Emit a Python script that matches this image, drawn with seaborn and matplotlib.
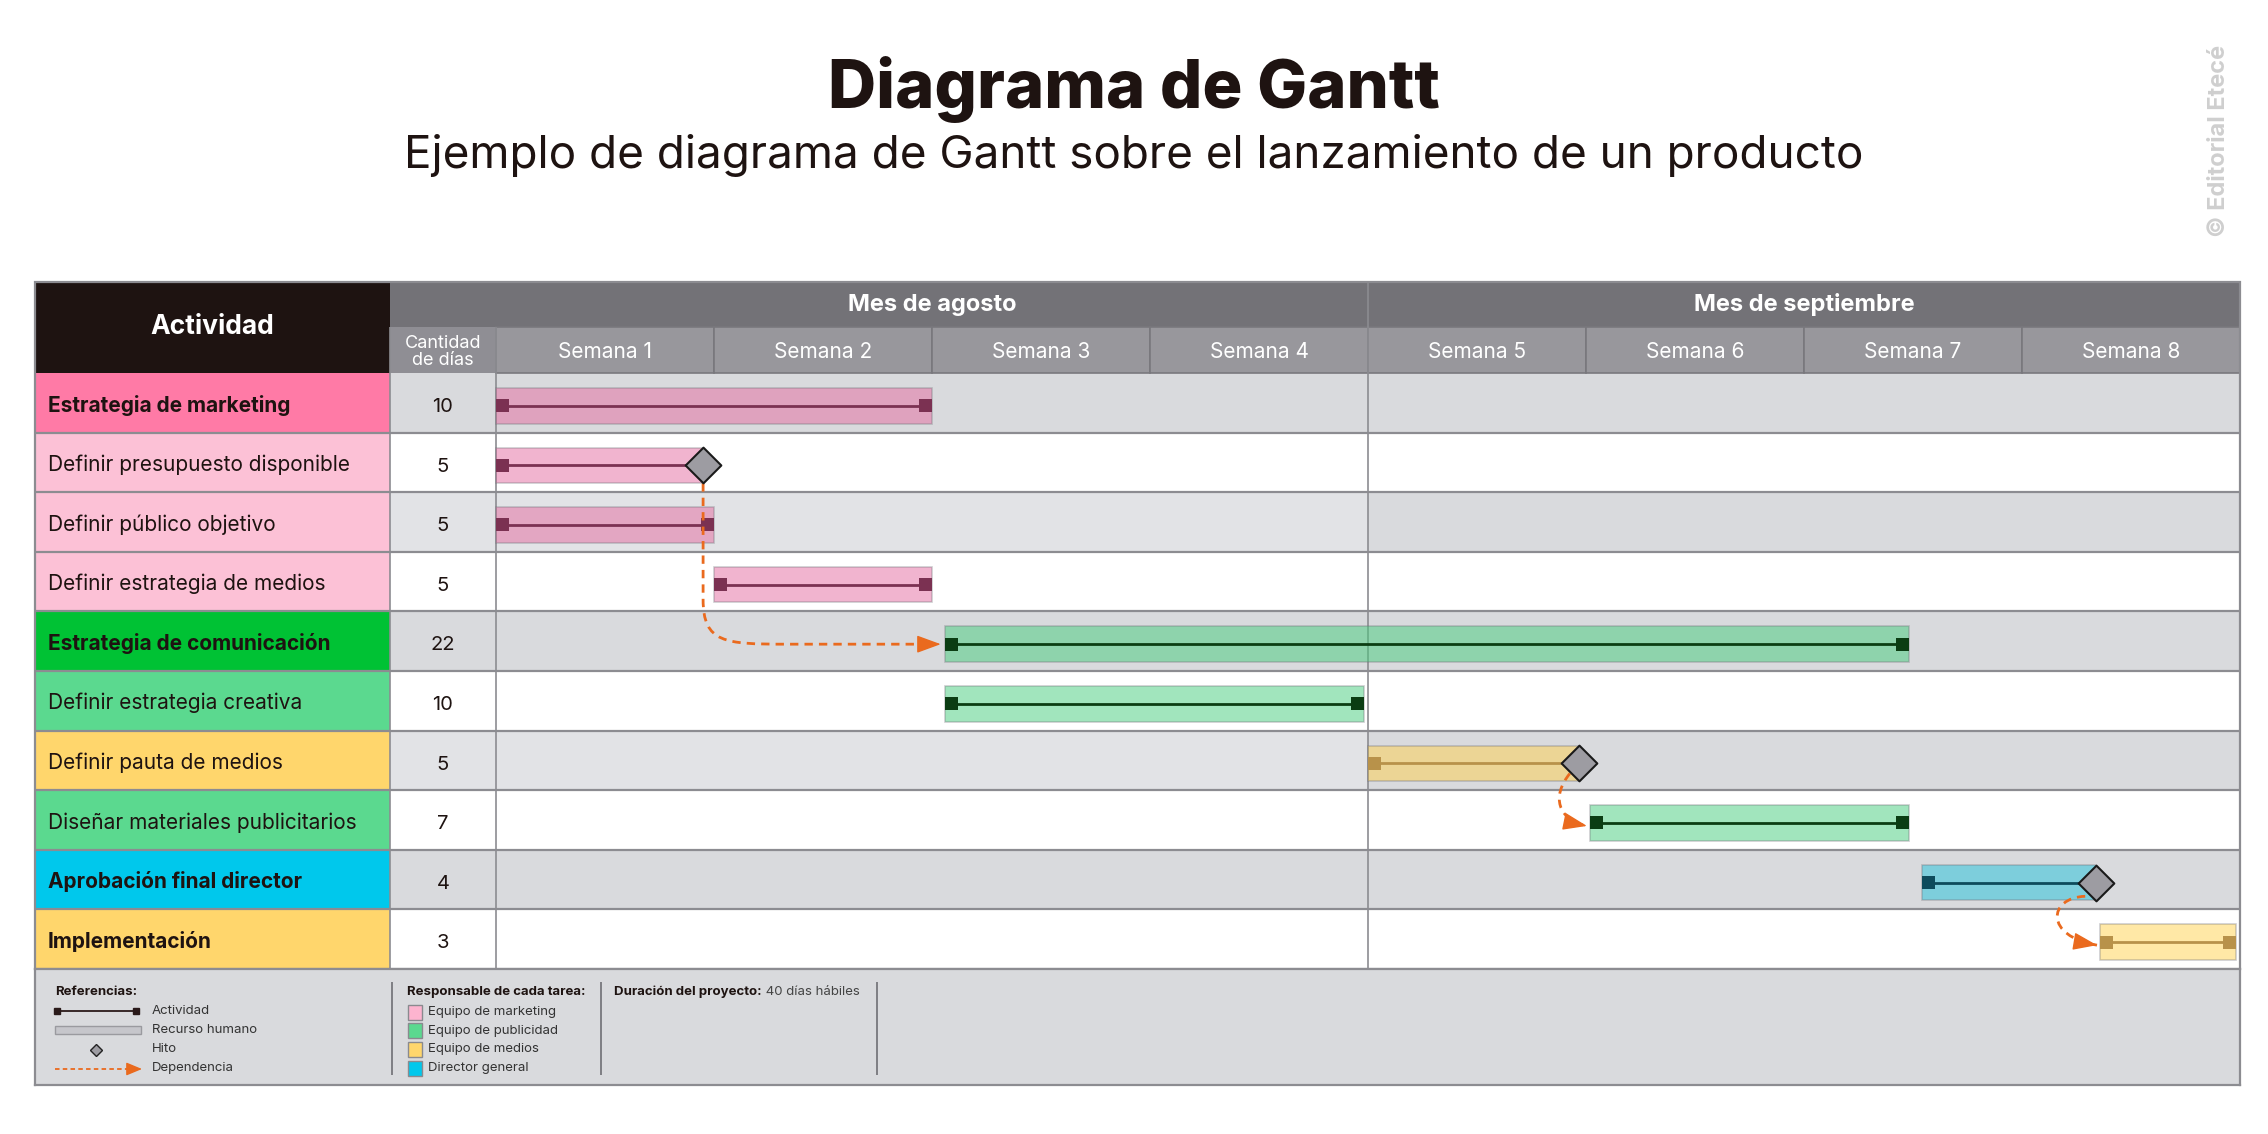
import numpy as np
import pandas as pd
import seaborn as sns
import matplotlib.pyplot as plt
from matplotlib.patches import Rectangle, PathPatch, FancyArrowPatch
from matplotlib.path import Path
from matplotlib.colors import to_rgba

# data
activities = ["Estrategia de marketing", "Definir presupuesto disponible", "Definir público objetivo",
              "Definir estrategia de medios", "Estrategia de comunicación", "Definir estrategia creativa",
              "Definir pauta de medios", "Diseñar materiales publicitarios", "Aprobación final director",
              "Implementación"]
days_count = [10, 5, 5, 5, 22, 10, 5, 7, 4, 3]
start_day = [0, 0, 0, 5, 10.3, 10.3, 20, 25.1, 32.7, 36.8]
end_day = [10, 4.75, 5, 10, 32.4, 19.9, 24.85, 32.4, 36.7, 39.9]
team = ["marketing", "marketing", "marketing", "marketing", "publicidad", "publicidad",
        "medios", "publicidad", "director", "medios"]
is_group = [True, False, False, False, True, False, False, False, True, True]
milestone = [False, True, False, False, False, False, True, False, True, False]
dependencies = [(1, 4), (6, 7), (8, 9)]
weeks = [f"Semana {i}" for i in range(1, 9)]
months = ["Mes de agosto", "Mes de septiembre"]
teams = ["marketing", "publicidad", "medios", "director"]
team_labels = ["Equipo de marketing", "Equipo de publicidad", "Equipo de medios", "Director general"]
total_days = 40

# colours
cell_light = {"marketing": "#fcc1d6", "publicidad": "#5bd98f", "medios": "#ffd66c", "director": "#00c8ec"}
cell_strong = {"marketing": "#ff7aa6", "publicidad": "#00c234", "medios": "#ffd66c", "director": "#00c8ec"}
bar_fill = {"marketing": "#e56ba0", "publicidad": "#45cd7c", "medios": "#ffd24f", "director": "#22c4dc"}
line_col = {"marketing": "#7b3152", "publicidad": "#0b3d13", "medios": "#b8924a", "director": "#0d4b5c"}
legend_sq = {"marketing": "#fdb4cf", "publicidad": "#5bd98f", "medios": "#ffd66c", "director": "#00c8ec"}
orange = "#ea6a1e"
dark = "#1e1311"
grid_col = "#8c8c91"

sns.set_theme(style="white")
plt.rcParams['font.family'] = ['Inter', 'DejaVu Sans']

W, H = 2268, 1134
fig = plt.figure(figsize=(W / 100, H / 100), dpi=100)
fig.patch.set_facecolor("white")

# layout in pixels
tab_left, tab_right, cnt_left, chart_left = 35, 2240, 390, 496
tab_top, week_top, rows_top, rows_bot, leg_bot = 282, 327, 373, 969, 1085
n = len(activities)
day_px = (tab_right - chart_left) / total_days
row_px = (rows_bot - rows_top) / n

ax = fig.add_axes([tab_left / W, 1 - rows_bot / H, (tab_right - tab_left) / W, (rows_bot - tab_top) / H])
x_min = -(chart_left - tab_left) / day_px
x_cnt = -(chart_left - cnt_left) / day_px
y_top = -(rows_top - tab_top) / row_px
y_mid = -(rows_top - week_top) / row_px
ax.set_xlim(x_min, total_days)
ax.set_ylim(n, y_top)
ax.axis("off")

# row backgrounds and left columns
for i, name in enumerate(activities):
    if i % 2 == 0:
        ax.add_patch(Rectangle((x_cnt, i), total_days - x_cnt, 1, fc="#d9dadd", lw=0, zorder=0))
        if i in (2, 6):
            ax.add_patch(Rectangle((x_cnt, i), 20 - x_cnt, 1, fc="#e2e3e6", lw=0, zorder=0))
    fc = cell_strong[team[i]] if is_group[i] else cell_light[team[i]]
    ax.add_patch(Rectangle((x_min, i), x_cnt - x_min, 1, fc=fc, lw=0, zorder=0))
    ax.text(x_min + 13 / day_px, i + 0.54, name, ha="left", va="center", fontsize=15,
            fontweight="bold" if is_group[i] else "normal", color=dark)
    ax.text(x_cnt / 2, i + 0.57, str(days_count[i]), ha="center", va="center", fontsize=14.5, color=dark)

# header
ax.add_patch(Rectangle((x_min, y_top), x_cnt - x_min, -y_top, fc=dark, lw=0))
ax.text((x_min + x_cnt) / 2, y_top / 2, "Actividad", ha="center", va="center", color="white",
        fontsize=19, fontweight="bold")
ax.add_patch(Rectangle((x_cnt, y_top), total_days - x_cnt, y_mid - y_top, fc="#737277", lw=0))
ax.add_patch(Rectangle((x_cnt, y_mid), -x_cnt, -y_mid, fc="#8f8e94", lw=0))
ax.text(x_cnt / 2, y_mid / 2 + 0.03, "Cantidad\nde días", ha="center", va="center", color="white",
        fontsize=13, linespacing=1.0)
for w, wk in enumerate(weeks):
    ax.add_patch(Rectangle((5 * w, y_mid), 5, -y_mid, fc="#98979c", ec="#79787d", lw=1.2))
    ax.text(5 * w + 2.5, y_mid / 2 + 0.04, wk, ha="center", va="center", color="white", fontsize=15)
for m, mo in enumerate(months):
    ax.text(20 * m + 10, (y_top + y_mid) / 2, mo, ha="center", va="center", color="white",
            fontsize=17, fontweight="bold")

# grid lines
ax.hlines(np.arange(1, n), x_min, total_days, color=grid_col, lw=1.6, zorder=1)
ax.vlines([x_cnt, 0], y_mid, n, color=grid_col, lw=1.2, zorder=1)
ax.vlines(20, y_top, n, color=grid_col, lw=1.2, zorder=1)
ax.add_patch(Rectangle((x_min, y_top), total_days - x_min, n - y_top, fill=False, ec=grid_col,
                       lw=1.6, zorder=5, clip_on=False))

# bars
yc = np.arange(n) + 0.55
widths = np.array(end_day) - np.array(start_day)
ax.barh(yc, widths, left=start_day, height=0.6,
        color=[to_rgba(bar_fill[t], 0.5) for t in team],
        edgecolor=[to_rgba("#707078", 0.35) for t in team], linewidth=1.2, zorder=2)

sq = 6.5 / day_px
ends = []
for i in range(n):
    x0 = start_day[i] + sq
    x1 = end_day[i] if milestone[i] else end_day[i] - sq
    ax.hlines(yc[i], x0, x1, color=line_col[team[i]], lw=2, zorder=3)
    ends.append({"x": x0, "y": yc[i], "team": team[i]})
    if not milestone[i]:
        ends.append({"x": x1, "y": yc[i], "team": team[i]})
ends = pd.DataFrame(ends)
sns.scatterplot(data=ends, x="x", y="y", hue="team", palette=line_col, marker="s", s=88,
                linewidth=0, legend=False, ax=ax, zorder=4)

ms_df = pd.DataFrame({"x": np.array(end_day)[milestone], "y": yc[milestone]})
sns.scatterplot(data=ms_df, x="x", y="y", marker="D", s=330, color="#9d9ca2",
                edgecolor="#1a1a1a", linewidth=1.5, legend=False, ax=ax, zorder=6)
ax.set_xlabel("")
ax.set_ylabel("")
ax.set_xlim(x_min, total_days)
ax.set_ylim(n, y_top)

# dependencies (control point offsets are layout only)
dep_shape = [
    "elbow",
    [(-0.22, 0.17), (-0.65, 0.55), (-0.5, -0.05)],
    [(-0.25, 0.23), (-1.1, 0.25), (-1.2, -0.1)],
]
for (src, dst), shape in zip(dependencies, dep_shape):
    fx, fy = end_day[src], yc[src]
    tx, ty = start_day[dst], yc[dst]
    tip = (tx - 0.1, ty)
    if shape == "elbow":
        verts = [(fx, fy + 0.3), (fx, ty - 0.75), (fx, ty - 0.02), (fx + 0.5, ty), (fx + 1.9, ty),
                 (tip[0] - 0.3, ty)]
        codes = [Path.MOVETO, Path.LINETO, Path.CURVE4, Path.CURVE4, Path.CURVE4, Path.LINETO]
        prev = (tip[0] - 1, ty)
    else:
        tip = (tx - 0.08, ty + 0.05)
        verts = [(fx + dx, fy + dy) for dx, dy in shape[:2]] + [(fx + shape[2][0], ty + shape[2][1]), tip]
        codes = [Path.MOVETO, Path.CURVE4, Path.CURVE4, Path.CURVE4]
        prev = verts[2]
    ax.add_patch(PathPatch(Path(verts, codes), fill=False, ec=orange, lw=2, ls=(0, (3, 2.2)), zorder=5))
    d = np.array([(tip[0] - prev[0]) * day_px, (tip[1] - prev[1]) * row_px])
    d = d / np.linalg.norm(d)
    base = (tip[0] - d[0] * 18 / day_px, tip[1] - d[1] * 18 / row_px)
    ax.add_patch(FancyArrowPatch(base, tip, arrowstyle="-|>,head_length=1.5,head_width=0.55",
                                 mutation_scale=10, color=orange, lw=1, shrinkA=0, shrinkB=0, zorder=6))

# legend / footer
lax = fig.add_axes([tab_left / W, 1 - leg_bot / H, (tab_right - tab_left) / W, (leg_bot - rows_bot) / H])
lax.set_xlim(0, tab_right - tab_left)
lax.set_ylim(leg_bot - rows_bot, 0)
lax.set_xticks([])
lax.set_yticks([])
lax.set_facecolor("#d9dadd")
for s in lax.spines.values():
    s.set_color(grid_col)
    s.set_linewidth(1.6)

fs = 9.5
lax.text(20, 23, "Referencias:", fontsize=fs, fontweight="bold", va="center", color=dark)
lax.plot([22, 101], [42, 42], color="#2a1a1a", lw=1.3, marker="s", ms=5)
lax.text(117, 42, "Actividad", fontsize=fs, va="center", color="#333")
lax.add_patch(Rectangle((20, 57), 86, 8, fc="#c6c6cb", ec="#9a9a9f", lw=1))
lax.text(117, 61, "Recurso humano", fontsize=fs, va="center", color="#333")
lax.plot([61], [81], marker="D", ms=6.5, color="#9d9ca2", mec="#222", mew=1)
lax.text(117, 80, "Hito", fontsize=fs, va="center", color="#333")
lax.plot([20, 98], [100, 100], color=orange, lw=1.3, ls=(0, (2.5, 1.8)))
lax.add_patch(FancyArrowPatch((96, 100), (107, 100), arrowstyle="-|>,head_length=1.2,head_width=0.5",
                              mutation_scale=8, color=orange, lw=1, shrinkA=0, shrinkB=0))
lax.text(117, 99, "Dependencia", fontsize=fs, va="center", color="#333")
lax.vlines([357, 566, 842], 13, 106, color="#6f6f74", lw=1.2)

lax.text(372, 23, "Responsable de cada tarea:", fontsize=fs, fontweight="bold", va="center", color=dark)
for k, (t, lab) in enumerate(zip(teams, team_labels)):
    yk = 43 + k * 18.7
    lax.add_patch(Rectangle((372.5, yk - 7.5), 14, 15, fc=legend_sq[t], ec="#8a8a8f", lw=1))
    lax.text(392.5, yk, lab, fontsize=fs, va="center", color="#333")

t1 = lax.text(579, 23, "Duración del proyecto:", fontsize=fs, fontweight="bold", va="center", color=dark)
lax.annotate(" 40 días hábiles", xy=(1, 0.5), xycoords=t1, fontsize=fs, va="center", color="#444")

# titles and credit
fig.text(0.5, 1 - 108 / H, "Diagrama de Gantt", ha="center", va="baseline", fontsize=48,
         fontweight="heavy", color=dark)
fig.text(0.5, 1 - 168 / H, "Ejemplo de diagrama de Gantt sobre el lanzamiento de un producto",
         ha="center", va="baseline", fontsize=33, color=dark)
fig.text(2219 / W, 1 - 141 / H, "© Editorial Etecé", rotation=90, ha="center", va="center",
         fontsize=17, fontweight="bold", color="#cfcfcf")

fig.savefig("out.png", dpi=100, facecolor="white")
